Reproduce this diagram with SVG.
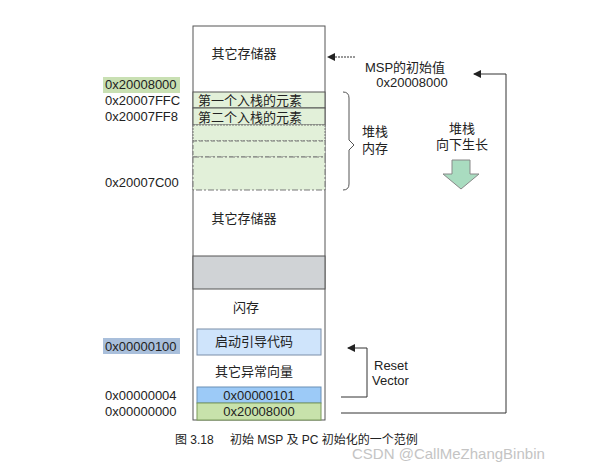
<svg xmlns="http://www.w3.org/2000/svg" width="606" height="472" viewBox="0 0 606 472">
<style>
text{font-family:"Liberation Sans","Noto Sans CJK SC",sans-serif;font-size:13px;fill:#222}
.c{text-anchor:middle}
.b{stroke:#555;stroke-width:1}
.g{fill:#e2f0d9}
</style>
<defs><marker id="ah" markerWidth="8" markerHeight="8" refX="7" refY="4" orient="auto"><path d="M0,0L8,4L0,8z" fill="#222"/></marker></defs>
<rect width="606" height="472" fill="#fff"/>
<g id="memory">
<rect x="193" y="26" width="132" height="394" fill="#fff" class="b"/>
<text x="244" y="58" class="c">其它存储器</text>
<rect x="193" y="92" width="132" height="16" class="g b"/>
<text x="198" y="105">第一个入栈的元素</text>
<rect x="193" y="108" width="132" height="17" class="g b"/>
<text x="198" y="122">第二个入栈的元素</text>
<rect x="193" y="125" width="132" height="16" class="g" stroke="#777" stroke-dasharray="2,1"/>
<rect x="193" y="141" width="132" height="16" class="g" stroke="#777" stroke-dasharray="4,2"/>
<rect x="193" y="157" width="132" height="33" class="g" stroke="#777" stroke-dasharray="6,2,2,2"/>
<text x="244" y="223" class="c">其它存储器</text>
<rect x="193" y="256" width="132" height="33" fill="#d0d3d6" class="b"/>
<text x="246" y="312" class="c">闪存</text>
<rect x="197" y="329" width="124" height="26" fill="#cfe4fb" stroke="#7a8ea8"/>
<text x="254" y="346" class="c">启动引导代码</text>
<text x="254" y="376" class="c">其它异常向量</text>
<rect x="197" y="387" width="124" height="16" fill="#9ccaf7" stroke="#6a8fb5"/>
<text x="259" y="400" class="c">0x00000101</text>
<rect x="197" y="403" width="124" height="17" fill="#c8e2ab" stroke="#7a9a5a"/>
<text x="259" y="416" class="c">0x20008000</text>
</g>
<g id="addresses">
<rect x="103" y="77" width="77" height="16" fill="#c9e0b3"/>
<text x="105" y="89">0x20008000</text>
<text x="105" y="105">0x20007FFC</text>
<text x="105" y="121">0x20007FF8</text>
<text x="105" y="187">0x20007C00</text>
<rect x="103" y="338" width="77" height="16" fill="#a9bfdb"/>
<text x="105" y="351">0x00000100</text>
<text x="105" y="400">0x00000004</text>
<text x="105" y="416">0x00000000</text>
</g>
<g id="labels">
<text x="405" y="72" class="c">MSP的初始值</text>
<text x="412" y="87" class="c">0x20008000</text>
<text x="362" y="136">堆栈</text>
<text x="362" y="153">内存</text>
<text x="462" y="133" class="c">堆栈</text>
<text x="462" y="149" class="c">向下生长</text>
<text x="374" y="370">Reset</text>
<text x="372" y="385">Vector</text>
<path d="M452,160h18v14h9l-18,15l-18,-15h9z" fill="#a9dcc0" stroke="#888"/>
</g>
<g id="connectors" fill="none" stroke="#333">
<path d="M343,92q6,0 6,6v42l5,5l-5,5v34q0,6 -6,6" stroke="#555"/>
<path d="M355,57H328" stroke-dasharray="2,1" marker-end="url(#ah)"/>
<path d="M341,397H367V348H348" marker-end="url(#ah)"/>
<path d="M341,413H506V74H474" marker-end="url(#ah)"/>
</g>
<g id="caption">
<text x="175" y="444" style="font-size:12px">图 3.18</text>
<text x="230" y="444" style="font-size:12px">初始 MSP 及 PC 初始化的一个范例</text>
<text x="352" y="459" style="font-size:15px;fill:#c4c4c4">CSDN @CallMeZhangBinbin</text>
</g>
</svg>
